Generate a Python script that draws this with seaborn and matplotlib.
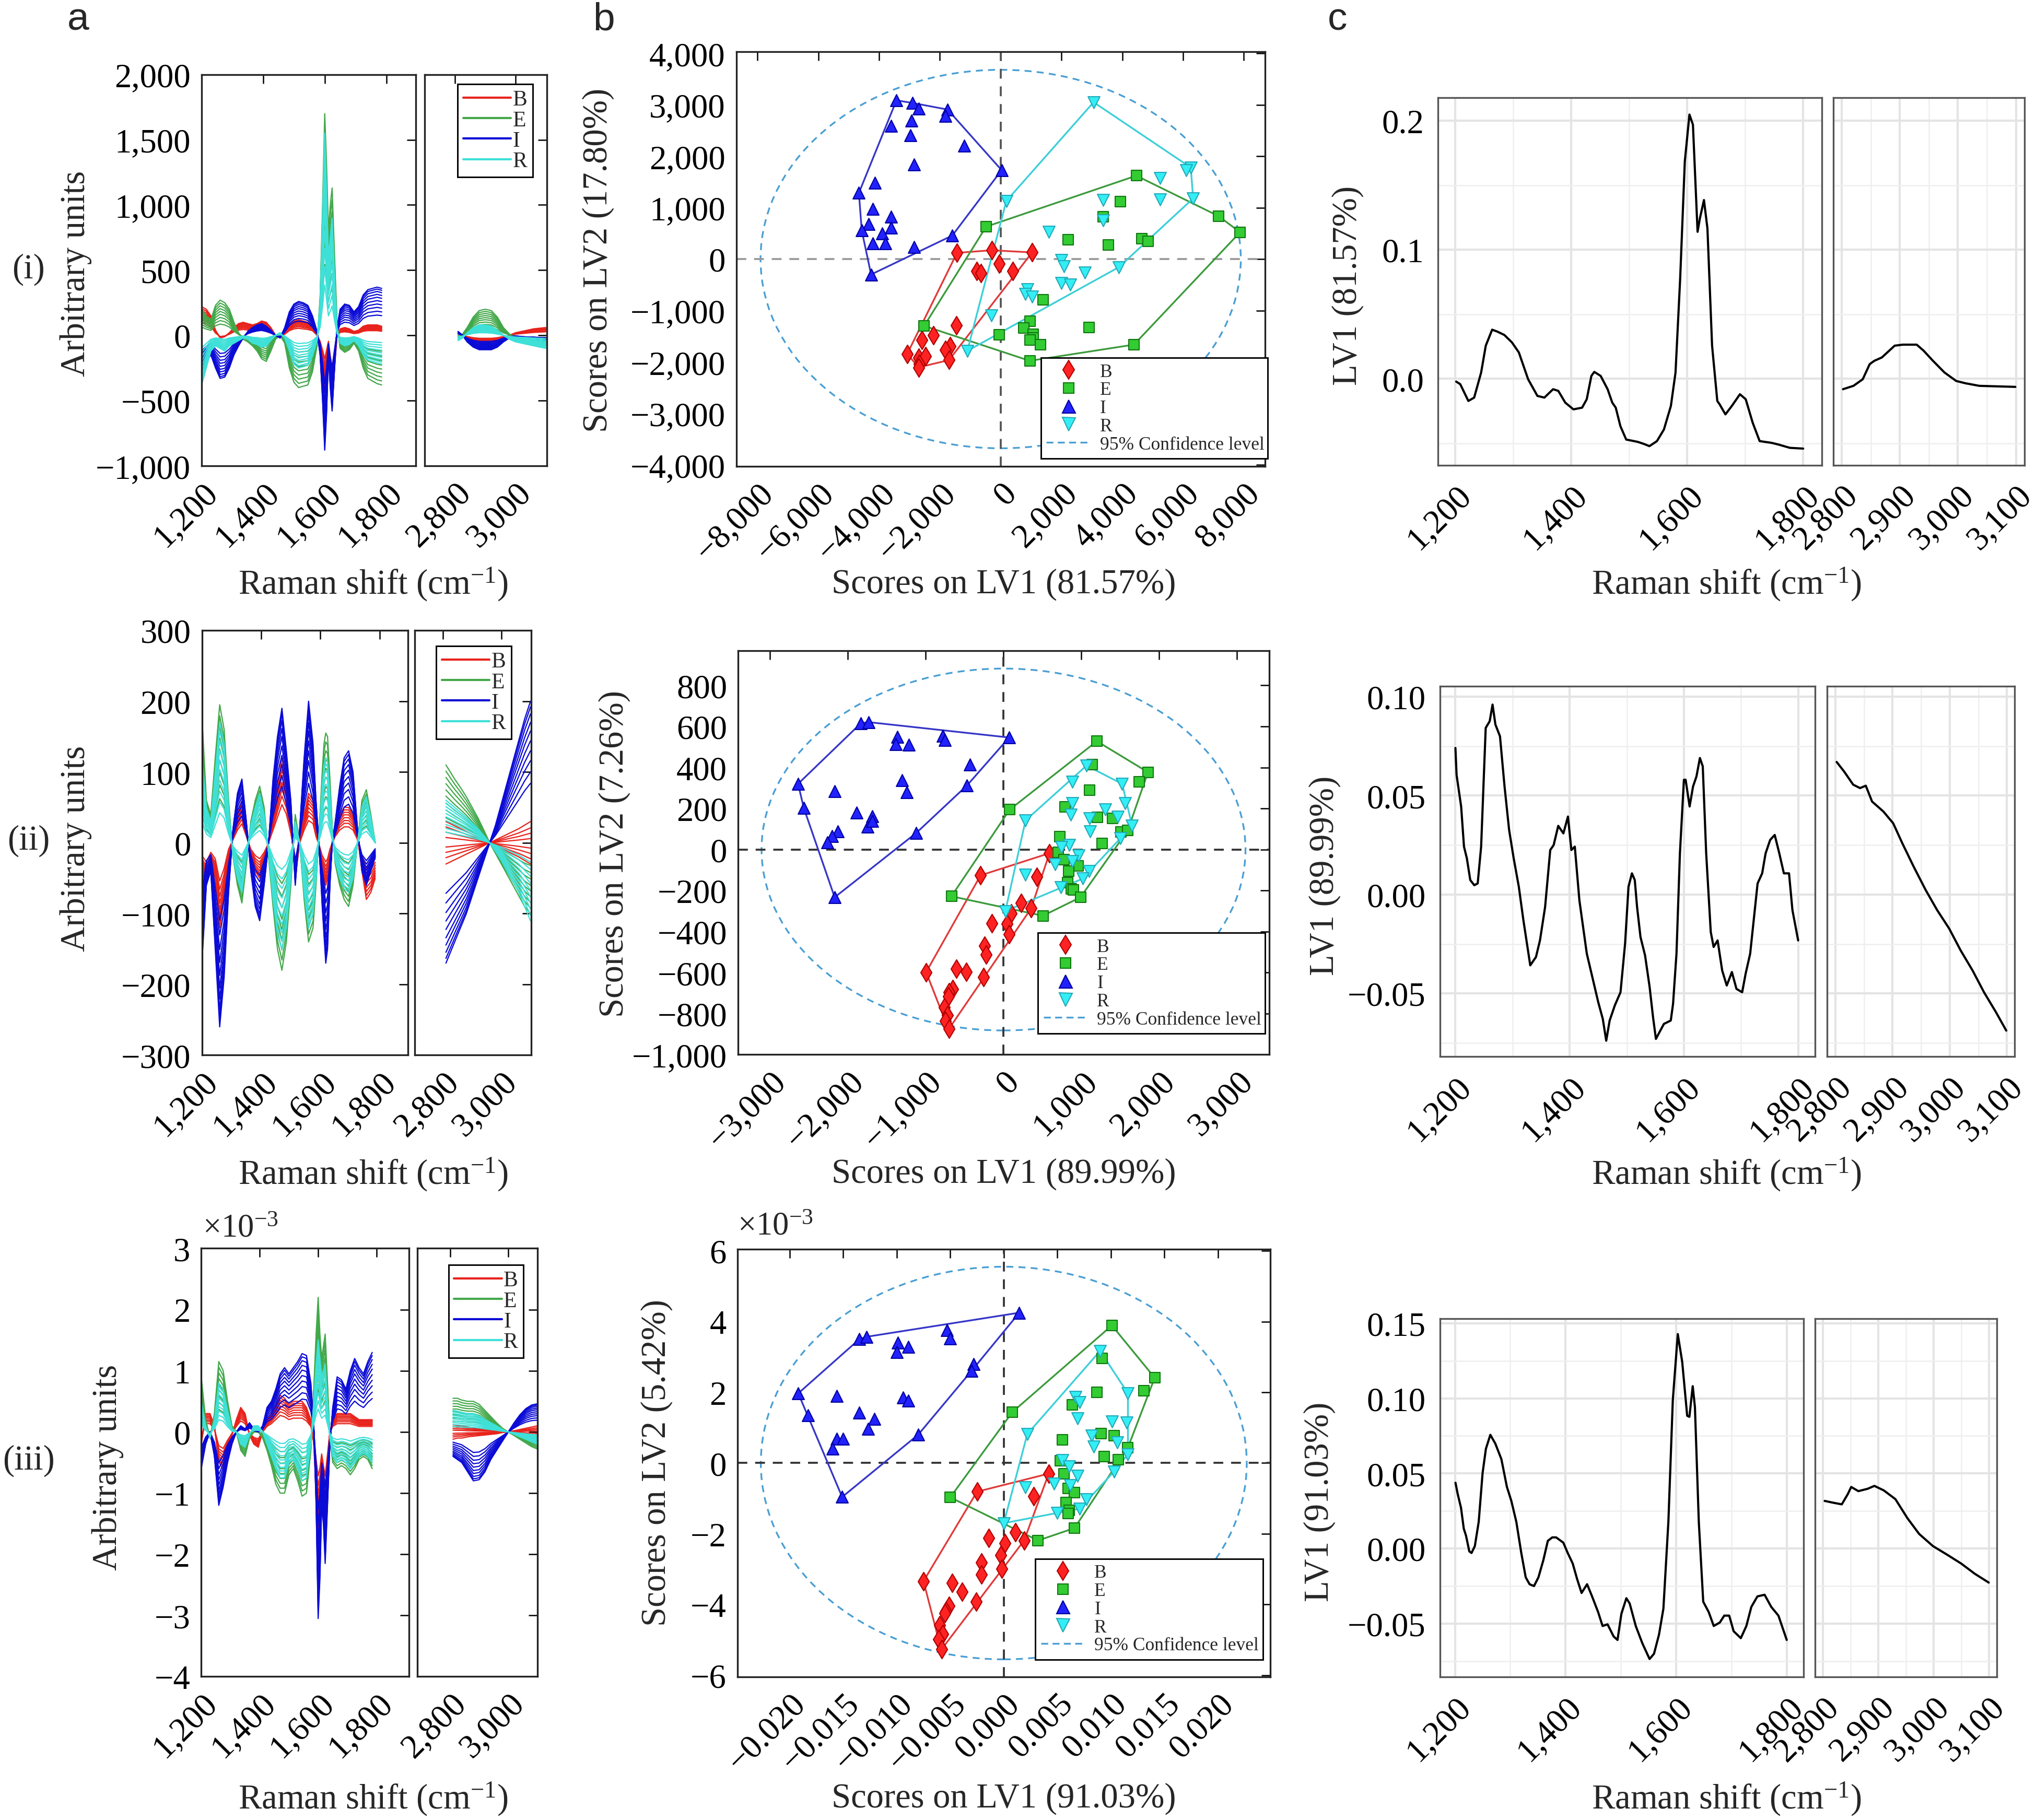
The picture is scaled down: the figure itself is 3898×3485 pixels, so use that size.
import numpy as np
import pandas as pd
import seaborn as sns
import matplotlib.pyplot as plt
from matplotlib.patches import Ellipse
from matplotlib.lines import Line2D
from matplotlib.ticker import FuncFormatter, FixedLocator

sns.set_theme(style="white")
plt.rcParams["font.family"] = ["Liberation Serif", "DejaVu Serif"]
plt.rcParams["mathtext.fontset"] = "custom"
plt.rcParams["mathtext.rm"] = "Liberation Serif"
plt.rcParams["mathtext.it"] = "Liberation Serif:italic"
plt.rcParams["mathtext.bf"] = "Liberation Serif:bold"
SERIF = ["Liberation Serif", "DejaVu Serif"]

classes = ["B", "E", "I", "R"]

# ---------------- column a: pretreated spectra ----------------
# outer line of each class bundle; bundle = outer line * scale factors
shift_lo = [1200, 1215, 1230, 1245, 1260, 1275, 1290, 1305, 1320, 1335, 1350, 1365, 1380, 1395, 1410,
            1425, 1440, 1455, 1470, 1485, 1500, 1515, 1530, 1545, 1560, 1575, 1585, 1593, 1600, 1606,
            1612, 1618, 1624, 1632, 1640, 1650, 1665, 1680, 1695, 1710, 1725, 1740, 1755, 1770, 1785]
shift_hi = [2810, 2825, 2840, 2860, 2880, 2900, 2920, 2940, 2960, 2980, 3000, 3020, 3040, 3060, 3080, 3100]

# (i)
a1_B_lo = [220, 200, 150, 40, -20, -10, 20, 60, 90, 100, 90, 80, 90, 110, 100, 60, 0, -20, 20, 80, 110, 120,
           110, 100, 80, 0, -100, -250, -400, -250, -100, -350, -550, -250, 0, 50, 60, 50, 30, 40, 70, 80, 80, 80, 70]
a1_E_lo = [200, 150, 120, 230, 270, 250, 200, 100, 20, -30, -50, -80, -120, -180, -200, -120, -30, 0, -60, -250,
           -360, -400, -390, -380, -280, -80, 300, 1000, 1700, 1300, 800, 1000, 1130, 600, 100, -100, -130, -110,
           -60, -120, -250, -330, -350, -370, -380]
a1_I_lo = [-280, -200, -150, -250, -330, -320, -250, -150, -80, -20, 30, 60, 80, 90, 70, 40, 0, -20, 60, 180, 240,
           260, 250, 230, 150, 30, -150, -500, -880, -600, -150, -400, -580, -250, 60, 200, 240, 230, 180, 220, 310,
           350, 360, 370, 360]
a1_R_lo = [-380, -250, -120, -80, -100, -120, -80, -60, -40, -20, -30, -60, -70, -90, -80, -40, 0, 20, -20, -120,
           -220, -250, -240, -230, -160, -40, 250, 900, 1550, 1100, 600, 750, 900, 450, 50, -60, -80, -70, -40, -80,
           -150, -190, -200, -210, -220]
a1_B_hi = [20, 0, -20, -40, -50, -50, -50, -40, -20, 0, 20, 30, 40, 50, 55, 60]
a1_E_hi = [-10, 10, 60, 140, 190, 200, 190, 140, 60, 10, -20, -40, -50, -60, -70, -80]
a1_I_hi = [30, 0, -50, -90, -110, -110, -110, -90, -50, -20, -10, -20, -30, -30, -40, -40]
a1_R_hi = [-40, -20, 20, 60, 80, 80, 70, 40, 0, -30, -50, -60, -70, -80, -90, -100]

# (ii)
a2_B_lo = [-40, -60, -30, -50, -120, -80, -20, 10, 40, 60, 20, -20, -40, -50, -30, 0, 40, 80, 120, 90, 30, -50,
           0, 40, 70, 60, 20, 0, -20, -40, -50, -60, -50, -20, 0, 20, 40, 50, 50, 40, 10, -40, -80, -70, -50]
a2_E_lo = [180, 60, 40, 120, 195, 160, 60, -20, -60, -85, -30, 30, 60, 80, 50, -20, -90, -150, -180, -140, -60,
           40, 0, -80, -140, -120, -60, 0, 50, 100, 140, 155, 150, 90, 20, -30, -60, -80, -90, -60, 0, 60, 75, 40, 0]
a2_I_lo = [-170, -60, -40, -150, -260, -190, -70, 20, 70, 90, 30, -40, -90, -110, -60, 0, 90, 150, 190, 130, 60,
           -60, 20, 120, 200, 140, 60, 10, -40, -90, -130, -170, -150, -60, 0, 30, 80, 120, 130, 100, 20, -40, -60,
           -40, -20]
a2_R_lo = [120, 50, 30, 100, 170, 140, 50, -20, -50, -70, -20, 25, 50, 70, 40, -15, -80, -130, -150, -120, -50,
           30, 0, -70, -120, -100, -50, 0, 40, 80, 110, 120, 115, 70, 15, -25, -50, -65, -70, -50, 0, 50, 65, 35, 0]
a2_B_hi = [30, 27, 24, 20, 16, 12, 8, 4, 0, -4, -8, -12, -16, -20, -25, -30]
a2_E_hi = [110, 100, 90, 78, 65, 50, 35, 18, 0, -15, -30, -45, -60, -75, -90, -100]
a2_I_hi = [-170, -155, -140, -120, -100, -75, -50, -25, 0, 25, 55, 85, 115, 145, 175, 200]
a2_R_hi = [60, 55, 50, 43, 36, 28, 20, 10, 0, -12, -25, -40, -55, -70, -90, -110]

# (iii)  (x 10^-3)
a3_B_lo = [-0.2, 0.3, 0.3, 0.1, -0.5, -0.6, -0.3, -0.05, 0.2, 0.4, 0.3, -0.05, -0.2, -0.25, 0.0, 0.2, 0.3, 0.45,
           0.6, 0.55, 0.45, 0.5, 0.5, 0.5, 0.4, 0.2, -0.2, -1.0, -1.6, -1.3, -0.8, -1.2, -1.6, -0.8, 0.0, 0.2, 0.3,
           0.3, 0.3, 0.3, 0.25, 0.2, 0.2, 0.2, 0.2]
a3_E_lo = [0.9, 0.2, -0.1, 0.3, 1.15, 1.0, 0.5, 0.1, 0.0, -0.3, -0.4, -0.1, 0.0, 0.0, -0.1, -0.3, -0.55, -0.85,
           -1.0, -1.0, -0.7, -0.6, -0.8, -1.05, -1.0, -0.3, 0.7, 1.6, 2.2, 1.6, 1.2, 1.4, 1.6, 0.8, -0.1, -0.5, -0.6,
           -0.55, -0.6, -0.7, -0.6, -0.45, -0.4, -0.45, -0.6]
a3_I_lo = [-0.6, -0.2, 0.0, -0.4, -1.2, -0.9, -0.5, -0.2, 0.0, 0.1, 0.05, 0.15, 0.05, 0.0, 0.1, 0.4, 0.5, 0.7,
           0.95, 1.05, 0.95, 1.05, 1.15, 1.28, 1.25, 0.8, 0.1, -1.2, -3.05, -2.4, -1.2, -1.5, -2.15, -1.2, -0.2, 0.4,
           0.9, 0.85, 0.7, 1.0, 1.2, 1.05, 0.95, 1.15, 1.3]
a3_R_lo = [0.5, 0.1, -0.1, 0.2, 0.8, 0.7, 0.35, 0.05, 0.0, -0.2, -0.25, -0.05, 0.1, 0.1, 0.0, -0.2, -0.4, -0.6,
           -0.75, -0.75, -0.5, -0.45, -0.6, -0.8, -0.75, -0.2, 0.5, 1.1, 1.5, 1.2, 0.9, 1.0, 1.1, 0.5, -0.1, -0.4,
           -0.5, -0.45, -0.5, -0.6, -0.5, -0.4, -0.35, -0.4, -0.5]
a3_B_hi = [0.12, 0.1, 0.1, 0.08, 0.07, 0.06, 0.05, 0.04, 0.03, 0.01, 0.0, -0.02, -0.04, -0.06, -0.08, -0.1]
a3_E_hi = [0.55, 0.55, 0.52, 0.5, 0.5, 0.45, 0.35, 0.25, 0.15, 0.06, 0.0, -0.06, -0.12, -0.18, -0.24, -0.28]
a3_I_hi = [-0.4, -0.45, -0.5, -0.65, -0.8, -0.78, -0.65, -0.45, -0.3, -0.15, 0.0, 0.15, 0.28, 0.38, 0.44, 0.46]
a3_R_hi = [0.35, 0.34, 0.32, 0.3, 0.3, 0.26, 0.2, 0.15, 0.1, 0.04, 0.0, -0.04, -0.08, -0.12, -0.16, -0.2]

scale_B = [0.45, 0.55, 0.63, 0.71, 0.79, 0.86, 0.93, 1.0]
scale_B_mix = [-1.0, -0.7, -0.45, -0.2, 0.25, 0.5, 0.75, 1.0]
scale_E = [0.32, 0.42, 0.51, 0.6, 0.68, 0.76, 0.84, 0.92, 1.0]
scale_I = [0.42, 0.5, 0.58, 0.65, 0.72, 0.79, 0.85, 0.91, 0.96, 1.0]
scale_R = [0.25, 0.34, 0.43, 0.52, 0.61, 0.69, 0.77, 0.85, 0.93, 1.0]

# ---------------- column b: PLS-DA scores ----------------
b1_B_x = [-1436, -293, 1035, -46, -788, -649, 402, -1452, -2595, -2209, -3073, -1668, -1822, -2703, -2471, -1699, -2672, -2703]
b1_B_y = [121, 171, 129, -86, -236, -271, -236, -1286, -1571, -1486, -1843, -1700, -1771, -1914, -1893, -1964, -2036, -2107]
b1_E_x = [-479, 4463, 3938, 3367, 2224, 3537, 4649, 4849, 7166, 7876, 1390, 958, 757, -46, -2517, 1066, 1066, 958, 1313, 2903, 4386, 958]
b1_E_y = [629, 1621, 1121, 821, 379, 279, 393, 343, 836, 521, -793, -1207, -1343, -1471, -1300, -1464, -1536, -1571, -1664, -1329, -1664, -1979]
b1_I_x = [-3429, -2903, -2703, -1745, -1822, -3614, -2934, -2965, -1205, -2842, 31, -4139, -4664, -4201, -3614, -4340, -4571, -3892, -3614, -1591, -4201, -3799, -2842, -4263]
b1_I_y = [3086, 3036, 2929, 2907, 2786, 2586, 2693, 2407, 2200, 1843, 1729, 1486, 1286, 971, 821, 679, 557, 500, 607, 457, 300, 300, 236, -300]
b1_R_x = [3058, 6255, 6100, 5251, 6332, 5236, 3367, 3367, 185, 1591, 1992, 2085, 2764, 3892, 1992, 2286, 880, 803, 1035, -309, -1097]
b1_R_y = [3050, 1779, 1729, 1571, 1179, 1157, 1143, 750, 1129, 529, -21, -143, -264, -157, -464, -500, -593, -679, -729, -1093, -1786]

b2_B_x = [590, -295, 428, 223, 355, 96, 42, -151, 72, -241, -223, -994, -608, -476, -259, -651, -699, -705, -759, -717, -747, -699]
b2_B_y = [-18, -126, -133, -260, -287, -312, -363, -359, -413, -469, -513, -598, -582, -596, -621, -680, -695, -716, -770, -808, -837, -873]
b2_E_x = [1199, 1855, 1139, 1741, 1102, 78, 789, 1205, 1398, 1506, 1596, 1265, 723, 705, 777, 958, 837, 825, 867, 898, 988, -669, 506]
b2_E_y = [528, 377, 413, 330, 289, 194, 208, 158, 151, 86, 93, 31, 63, -14, -50, -79, -106, -162, -192, -197, -233, -228, -323]
b2_I_x = [-1831, -1735, 72, -1361, -1386, -1217, -777, -753, -428, -1301, -1241, -470, -2639, -2566, -2169, -1886, -1687, -1747, -1687, -1120, -2127, -2205, -2265, -2169]
b2_I_y = [616, 621, 546, 549, 513, 510, 553, 535, 413, 338, 280, 312, 320, 203, 285, 181, 163, 110, 140, 81, 88, 65, 36, -233]
b2_R_x = [1066, 886, 1524, 886, 1560, 862, 1307, 1470, 1102, 283, 1651, 1114, 1500, 843, 741, 964, 663, 886, 277, 1096, 1018, 735, 24]
b2_R_y = [409, 329, 320, 226, 226, 171, 196, 160, 151, 142, 117, 88, 54, 23, 11, -29, -72, -57, -124, -106, -142, -183, -300]

b3_B_x = [0.0042, -0.0025, 0.0028, 0.0011, 0.0019, -0.0014, 0.0001, -0.0003, -0.0021, -0.0021, -0.0002, -0.0075, -0.0048, -0.0039, -0.0026, -0.0051, -0.0054, -0.0055, -0.0060, -0.0057, -0.0061, -0.0058]
b3_B_y = [-0.30, -0.81, -0.94, -1.95, -2.19, -2.12, -2.26, -2.60, -2.82, -3.15, -2.99, -3.34, -3.39, -3.64, -3.92, -4.04, -4.18, -4.25, -4.58, -4.83, -4.98, -5.26]
b3_E_x = [0.0101, 0.0141, 0.0092, 0.0131, 0.0087, 0.0064, 0.0008, 0.0091, 0.0103, 0.0055, 0.0116, 0.0094, 0.0107, 0.0053, 0.0056, 0.0060, 0.0066, 0.0058, 0.0061, 0.0060, 0.0066, -0.0050, 0.0032]
b3_E_y = [3.89, 2.41, 2.96, 2.04, 2.00, 1.65, 1.44, 0.83, 0.78, 0.66, 0.44, 0.19, 0.10, 0.06, -0.30, -0.72, -0.84, -1.12, -1.34, -1.43, -1.84, -0.97, -2.19]
b3_I_x = [0.00145, -0.0135, -0.0128, -0.0053, -0.0050, -0.0099, -0.0100, -0.0089, -0.0028, -0.0030, -0.0192, -0.0156, -0.0094, -0.0089, -0.0183, -0.0135, -0.0121, -0.0127, -0.0080, -0.0156, -0.0150, -0.0160, -0.0151]
b3_I_y = [4.25, 3.50, 3.57, 3.75, 3.52, 3.41, 3.14, 3.28, 2.80, 2.61, 1.97, 1.89, 1.85, 1.77, 1.35, 1.43, 1.25, 0.96, 0.80, 0.69, 0.68, 0.40, -0.96]
b3_R_x = [0.0090, 0.0116, 0.0067, 0.0071, 0.0069, 0.0101, 0.0115, 0.0022, 0.0082, 0.0084, 0.0106, 0.0116, 0.0055, 0.0061, 0.0069, 0.0103, 0.0047, 0.0062, 0.0020, 0.0077, 0.0071, 0.0050, 0.0000]
b3_R_y = [3.17, 1.97, 1.86, 1.72, 1.26, 1.18, 1.14, 0.82, 0.77, 0.46, 0.58, 0.25, 0.08, -0.10, -0.36, -0.24, -0.58, -0.63, -0.68, -1.02, -1.29, -1.41, -1.70]

# 95% confidence ellipse semi-axes (LV1, LV2)
ell_1 = (7900, 3680)
ell_2 = (3108, 882)
ell_3 = (0.0227, 5.55)

# ---------------- column c: LV1 loadings ----------------
c1_x_lo = [1202, 1209, 1223, 1233, 1245, 1253, 1264, 1273, 1285, 1298, 1310, 1326, 1342, 1354, 1369, 1378, 1390, 1404,
           1419, 1427, 1435, 1440, 1451, 1463, 1471, 1477, 1485, 1495, 1503, 1515, 1525, 1535, 1548, 1560, 1572, 1580,
           1588, 1596, 1604, 1610, 1618, 1622, 1629, 1635, 1643, 1652, 1656, 1666, 1677, 1691, 1701, 1713, 1725, 1745,
           1757, 1777, 1800]
c1_y_lo = [-0.0021, -0.0041, -0.0171, -0.0145, 0.0049, 0.0257, 0.0381, 0.0366, 0.0340, 0.0283, 0.0205, -0.0003,
           -0.0132, -0.0145, -0.0080, -0.0093, -0.0184, -0.0236, -0.0223, -0.0158, 0.0023, 0.0054, 0.0023, -0.0080,
           -0.0184, -0.0223, -0.0366, -0.0470, -0.0477, -0.0488, -0.0503, -0.0521, -0.0482, -0.0392, -0.0210, 0.0049,
           0.0776, 0.1684, 0.2047, 0.1969, 0.1139, 0.1243, 0.1385, 0.1165, 0.0257, -0.0171, -0.0197, -0.0275, -0.0210,
           -0.0119, -0.0158, -0.0340, -0.0482, -0.0495, -0.0508, -0.0534, -0.0540]
c1_x_hi = [2802, 2820, 2836, 2848, 2856, 2869, 2891, 2905, 2929, 2941, 2957, 2977, 2997, 3013, 3037, 3099]
c1_y_hi = [-0.0080, -0.0054, -0.0003, 0.0114, 0.0140, 0.0166, 0.0257, 0.0265, 0.0265, 0.0218, 0.0140, 0.0049,
           -0.0016, -0.0034, -0.0054, -0.0062]

c2_x_lo = [1200, 1202, 1210, 1215, 1220, 1226, 1233, 1239, 1245, 1253, 1260, 1265, 1270, 1278, 1286, 1294, 1302, 1311,
           1319, 1331, 1341, 1348, 1357, 1366, 1372, 1380, 1389, 1397, 1403, 1409, 1417, 1430, 1439, 1450, 1458, 1464,
           1470, 1479, 1489, 1497, 1503, 1509, 1514, 1518, 1524, 1532, 1540, 1546, 1551, 1557, 1565, 1577, 1581, 1587,
           1593, 1600, 1603, 1610, 1616, 1622, 1628, 1633, 1639, 1647, 1652, 1659, 1667, 1675, 1684, 1692, 1702, 1708,
           1716, 1729, 1737, 1743, 1751, 1759, 1767, 1775, 1784, 1790, 1800]
c2_y_lo = [0.0741, 0.0605, 0.0445, 0.0242, 0.0183, 0.0073, 0.0047, 0.0056, 0.0242, 0.0842, 0.0876, 0.0960, 0.0859,
           0.0800, 0.0546, 0.0326, 0.0183, 0.0039, -0.0130, -0.0358, -0.0316, -0.0232, -0.0063, 0.0225, 0.0250, 0.0347,
           0.0309, 0.0394, 0.0225, 0.0242, -0.0029, -0.0299, -0.0409, -0.0544, -0.0629, -0.0739, -0.0637, -0.0561,
           -0.0494, -0.0249, 0.0039, 0.0107, 0.0073, -0.0063, -0.0215, -0.0308, -0.0468, -0.0621, -0.0730, -0.0697,
           -0.0654, -0.0637, -0.0553, -0.0299, 0.0208, 0.0580, 0.0580, 0.0445, 0.0546, 0.0597, 0.0690, 0.0648, 0.0208,
           -0.0189, -0.0265, -0.0232, -0.0384, -0.0460, -0.0392, -0.0477, -0.0494, -0.0401, -0.0299, 0.0056, 0.0107,
           0.0208, 0.0276, 0.0301, 0.0208, 0.0107, 0.0107, -0.0079, -0.0232]
c2_x_hi = [2802, 2815, 2831, 2843, 2853, 2864, 2884, 2901, 2917, 2937, 2958, 2978, 2999, 3019, 3040, 3060, 3081, 3099]
c2_y_hi = [0.0670, 0.0622, 0.0555, 0.0538, 0.0550, 0.0470, 0.0419, 0.0360, 0.0259, 0.0140, 0.0022, -0.0079, -0.0172,
           -0.0282, -0.0384, -0.0494, -0.0595, -0.0688]

c3_x_lo = [1201, 1205, 1211, 1216, 1220, 1226, 1230, 1236, 1243, 1250, 1256, 1264, 1273, 1284, 1294, 1302, 1311, 1320,
           1328, 1335, 1343, 1351, 1360, 1368, 1376, 1383, 1396, 1404, 1413, 1421, 1429, 1439, 1448, 1459, 1467, 1476,
           1487, 1494, 1501, 1510, 1516, 1527, 1539, 1552, 1560, 1569, 1577, 1586, 1594, 1603, 1611, 1620, 1624, 1630,
           1634, 1641, 1649, 1659, 1668, 1679, 1687, 1696, 1704, 1717, 1727, 1736, 1747, 1760, 1772, 1785, 1800]
c3_y_lo = [0.0438, 0.0363, 0.0271, 0.0132, 0.0086, -0.0019, -0.0030, 0.0016, 0.0178, 0.0502, 0.0664, 0.0757, 0.0699,
           0.0595, 0.0410, 0.0317, 0.0178, -0.0030, -0.0192, -0.0238, -0.0250, -0.0192, -0.0076, 0.0051, 0.0074, 0.0074,
           0.0039, -0.0030, -0.0100, -0.0204, -0.0296, -0.0238, -0.0319, -0.0424, -0.0516, -0.0505, -0.0586, -0.0609,
           -0.0435, -0.0331, -0.0366, -0.0516, -0.0632, -0.0736, -0.0701, -0.0574, -0.0400, 0.0178, 0.0988, 0.1428,
           0.1243, 0.0884, 0.0877, 0.1081, 0.0942, 0.0178, -0.0354, -0.0424, -0.0516, -0.0493, -0.0447, -0.0447,
           -0.0551, -0.0597, -0.0516, -0.0389, -0.0319, -0.0308, -0.0389, -0.0447, -0.0609]
c3_x_hi = [2803, 2817, 2834, 2845, 2851, 2864, 2881, 2893, 2910, 2931, 2953, 2974, 2999, 3025, 3050, 3075, 3100]
c3_y_hi = [0.0317, 0.0306, 0.0294, 0.0363, 0.0410, 0.0382, 0.0398, 0.0417, 0.0387, 0.0329, 0.0201, 0.0097, 0.0016,
           -0.0042, -0.0100, -0.0169, -0.0227]

# ---------------- styling ----------------
LINE_COL = {"B": "#e8231c", "E": "#43a84a", "I": "#0b0bd6", "R": "#3ee0d8"}
FACE = {"B": "#ff2222", "E": "#33cc33", "I": "#2222ff", "R": "#33eef5"}
EDGE = {"B": "#b00000", "E": "#117711", "I": "#0000a0", "R": "#22aab8"}
HULL = {"B": "#e03a3a", "E": "#3c9a3c", "I": "#3636c8", "R": "#3ccfd8"}
MARK = {"B": "d", "E": "s", "I": "^", "R": "v"}
SIZE = {"B": 36, "E": 24, "I": 30, "R": 30}
ELL_COL = "#4a9fd4"
MINUS = "\u2212"

fig = plt.figure(figsize=(3898 / 300, 3486 / 300), dpi=300)


def add_ax(l, r, t, b):
    # box given in pixels of the 1568 x 1402 preview
    return fig.add_axes([l / 1568, 1 - b / 1402, (r - l) / 1568, (b - t) / 1402])


def comma_fmt(v, pos=None):
    return f"{v:,.0f}".replace("-", MINUS)


def dec_fmt(n):
    def f(v, pos=None):
        if abs(v) < 1e-12:
            v = 0.0
        return f"{v:.{n}f}".replace("-", MINUS)
    return FuncFormatter(f)


def rot(ax):
    plt.setp(ax.get_xticklabels(), rotation=45, ha="right", rotation_mode="anchor", family=SERIF)
    plt.setp(ax.get_yticklabels(), family=SERIF)


def matlab_style(ax):
    ax.tick_params(direction="in", top=True, right=True, length=4, width=0.6, labelsize=15.5, pad=5,
                   colors="black")
    for s in ax.spines.values():
        s.set_linewidth(0.8)
        s.set_color("#222222")
    ax.set_xlabel("")
    ax.set_ylabel("")


def convex_hull(xs, ys):
    pts = sorted(set(zip(xs, ys)))

    def cross(o, a, b):
        return (a[0] - o[0]) * (b[1] - o[1]) - (a[1] - o[1]) * (b[0] - o[0])

    lower, upper = [], []
    for p in pts:
        while len(lower) >= 2 and cross(lower[-2], lower[-1], p) <= 0:
            lower.pop()
        lower.append(p)
    for p in reversed(pts):
        while len(upper) >= 2 and cross(upper[-2], upper[-1], p) <= 0:
            upper.pop()
        upper.append(p)
    hull = lower[:-1] + upper[:-1]
    hull.append(hull[0])
    return [p[0] for p in hull], [p[1] for p in hull]


def spectra_panel(box_lo, box_hi, prof_lo, prof_hi, sc_lo, sc_hi, xlim_lo, xlim_hi, ylim, yticks, yfmt, leg):
    ax_lo = add_ax(*box_lo)
    ax_hi = add_ax(*box_hi)
    for ax, shift, prof, sc in ((ax_lo, shift_lo, prof_lo, sc_lo), (ax_hi, shift_hi, prof_hi, sc_hi)):
        rows = []
        for cls in classes:
            for k, s in enumerate(sc[cls]):
                for x, v in zip(shift, prof[cls]):
                    rows.append((x, v * s, cls, f"{cls}{k}"))
        df = pd.DataFrame(rows, columns=["shift", "value", "cls", "line"])
        sns.lineplot(data=df, x="shift", y="value", hue="cls", hue_order=classes, units="line",
                     estimator=None, palette=LINE_COL, lw=0.55, legend=False, sort=False, ax=ax)
        ax.set_ylim(*ylim)
        ax.set_yticks(yticks)
        ax.yaxis.set_major_formatter(yfmt)
        matlab_style(ax)
    ax_lo.set_xlim(*xlim_lo)
    ax_lo.set_xticks([1200, 1400, 1600, 1800])
    ax_hi.set_xlim(*xlim_hi)
    ax_hi.set_xticks([2800, 3000])
    ax_hi.tick_params(labelleft=False)
    for ax in (ax_lo, ax_hi):
        ax.xaxis.set_major_formatter(FuncFormatter(comma_fmt))
        rot(ax)
    handles = [Line2D([], [], color=LINE_COL[c], lw=1.0, label=c) for c in classes]
    lg = ax_hi.legend(handles=handles, loc="upper right", bbox_to_anchor=(leg[1], leg[2]),
                      fontsize=10, frameon=True, fancybox=False, edgecolor="black", framealpha=1,
                      labelspacing=0.02, handlelength=2.2, handletextpad=0.08, borderpad=0.25, borderaxespad=0)
    lg.get_frame().set_linewidth(0.7)
    return ax_lo, ax_hi


def score_panel(box, pts, ell, xlim, ylim, xticks, yticks, xfmt, yfmt, zero_cols, leg):
    ax = add_ax(*box)
    ax.add_patch(Ellipse((0, 0), 2 * ell[0], 2 * ell[1], fill=False, ls=(0, (4, 3)), ec=ELL_COL, lw=0.8,
                         zorder=1))
    ax.axhline(0, ls=(0, (5, 4)), color=zero_cols[0], lw=0.9, zorder=1)
    ax.axvline(0, ls=(0, (5, 4)), color=zero_cols[1], lw=0.9, zorder=1)
    for cls in ["I", "B", "E", "R"]:
        xs, ys = pts[cls]
        hx, hy = convex_hull(xs, ys)
        ax.plot(hx, hy, color=HULL[cls], lw=0.8, zorder=2)
        sns.scatterplot(x=xs, y=ys, marker=MARK[cls], color=FACE[cls], edgecolor=EDGE[cls], linewidth=0.5,
                        s=SIZE[cls], ax=ax, zorder=3, legend=False)
    ax.set_xlim(*xlim)
    ax.set_ylim(*ylim)
    ax.set_xticks(xticks)
    ax.set_yticks(yticks)
    ax.xaxis.set_major_formatter(xfmt)
    ax.yaxis.set_major_formatter(yfmt)
    matlab_style(ax)
    rot(ax)
    handles = [Line2D([], [], ls="none", marker=MARK[c], ms=6 if c != "E" else 5, mfc=FACE[c], mec=EDGE[c],
                      mew=0.5, label=c) for c in classes]
    handles.append(Line2D([], [], ls=(0, (4, 2.5)), color=ELL_COL, lw=0.8, label="95% Confidence level"))
    lg = ax.legend(handles=handles, loc="upper left", bbox_to_anchor=(leg[0], 0, leg[1] - leg[0], leg[2]),
                   mode="expand", fontsize=8.5, frameon=True, fancybox=False, edgecolor="black", framealpha=1,
                   labelspacing=0.05, handlelength=2.4, handletextpad=0.5, borderpad=0.3, borderaxespad=0)
    lg.get_frame().set_linewidth(0.7)
    lg.set_zorder(10)
    return ax


def gg_style(ax):
    ax.set_facecolor("white")
    ax.grid(True, which="major", color="#e4e4e4", lw=1.0)
    ax.grid(True, which="minor", color="#efefef", lw=0.6)
    ax.set_axisbelow(True)
    for s in ax.spines.values():
        s.set_color("#555555")
        s.set_linewidth(0.8)
    ax.tick_params(which="major", direction="out", length=3.5, width=0.6, color="#555555", labelsize=15.5,
                   pad=3, labelcolor="black")
    ax.tick_params(which="minor", length=0)
    ax.set_xlabel("")
    ax.set_ylabel("")


def loading_panel(box_lo, box_hi, xlo, ylo, xhi, yhi, xlim_lo, xlim_hi, ylim, yticks, yminor, ndec):
    ax_lo = add_ax(*box_lo)
    ax_hi = add_ax(*box_hi)
    sns.lineplot(x=xlo, y=ylo, color="black", lw=1.0, sort=False, ax=ax_lo)
    sns.lineplot(x=xhi, y=yhi, color="black", lw=1.0, sort=False, ax=ax_hi)
    for ax in (ax_lo, ax_hi):
        ax.set_ylim(*ylim)
        ax.set_yticks(yticks)
        ax.yaxis.set_minor_locator(FixedLocator(yminor))
        ax.yaxis.set_major_formatter(dec_fmt(ndec))
        gg_style(ax)
    ax_lo.set_xlim(*xlim_lo)
    ax_lo.set_xticks([1200, 1400, 1600, 1800])
    ax_lo.xaxis.set_minor_locator(FixedLocator([1300, 1500, 1700]))
    ax_hi.set_xlim(*xlim_hi)
    ax_hi.set_xticks([2800, 2900, 3000, 3100])
    ax_hi.xaxis.set_minor_locator(FixedLocator([2850, 2950, 3050]))
    ax_hi.tick_params(axis="y", left=False, labelleft=False)
    for ax in (ax_lo, ax_hi):
        ax.xaxis.set_major_formatter(FuncFormatter(comma_fmt))
        rot(ax)
    return ax_lo, ax_hi


# ---------------- column a ----------------
spectra_panel((155.3, 320, 57.8, 359.1), (327.2, 421.2, 57.8, 359.1),
              {"B": a1_B_lo, "E": a1_E_lo, "I": a1_I_lo, "R": a1_R_lo},
              {"B": a1_B_hi, "E": a1_E_hi, "I": a1_I_hi, "R": a1_R_hi},
              {"B": scale_B, "E": scale_E, "I": scale_I, "R": scale_R},
              {"B": scale_B, "E": scale_E, "I": scale_I, "R": scale_R},
              (1200, 1895), (2700, 3104), (-1000, 2000), [-1000, -500, 0, 500, 1000, 1500, 2000],
              FuncFormatter(comma_fmt), (0.219, 0.884, 0.975))
spectra_panel((155.5, 314.1, 485.9, 813), (319.4, 409, 485.9, 813),
              {"B": a2_B_lo, "E": a2_E_lo, "I": a2_I_lo, "R": a2_R_lo},
              {"B": a2_B_hi, "E": a2_E_hi, "I": a2_I_hi, "R": a2_R_hi},
              {"B": scale_B, "E": scale_E, "I": scale_I, "R": scale_R},
              {"B": scale_B_mix, "E": scale_E, "I": scale_I, "R": scale_R},
              (1200, 1895), (2703, 3102), (-300, 300), [-300, -200, -100, 0, 100, 200, 300],
              FuncFormatter(comma_fmt), (0.156, 0.83, 0.963))
spectra_panel((155, 314.8, 961.8, 1291.6), (321.3, 414.1, 961.8, 1291.6),
              {"B": a3_B_lo, "E": a3_E_lo, "I": a3_I_lo, "R": a3_R_lo},
              {"B": a3_B_hi, "E": a3_E_hi, "I": a3_I_hi, "R": a3_R_hi},
              {"B": scale_B, "E": scale_E, "I": scale_I, "R": scale_R},
              {"B": scale_B_mix, "E": scale_E, "I": scale_I, "R": scale_R},
              (1200, 1910), (2687, 3101), (-4, 3), [-4, -3, -2, -1, 0, 1, 2, 3],
              FuncFormatter(comma_fmt), (0.207, 0.882, 0.961))

# ---------------- column b ----------------
score_panel((567, 974.3, 40.3, 359.5),
            {"B": (b1_B_x, b1_B_y), "E": (b1_E_x, b1_E_y), "I": (b1_I_x, b1_I_y), "R": (b1_R_x, b1_R_y)},
            ell_1, (-8700, 8700), (-4030, 4030), list(range(-8000, 8001, 2000)), list(range(-4000, 4001, 1000)),
            FuncFormatter(comma_fmt), FuncFormatter(comma_fmt), ("#9a9a9a", "#555555"), (0.576, 1.005, 0.262))
score_panel((568.4, 977.3, 501.7, 812.6),
            {"B": (b2_B_x, b2_B_y), "E": (b2_E_x, b2_E_y), "I": (b2_I_x, b2_I_y), "R": (b2_R_x, b2_R_y)},
            ell_2, (-3410, 3410), (-1000, 968), list(range(-3000, 3001, 1000)), list(range(-1000, 801, 200)),
            FuncFormatter(comma_fmt), FuncFormatter(comma_fmt), ("#333333", "#333333"), (0.5646, 0.993, 0.302))
score_panel((567.8, 978.3, 962.3, 1291.9),
            {"B": (b3_B_x, b3_B_y), "E": (b3_E_x, b3_E_y), "I": (b3_I_x, b3_I_y), "R": (b3_R_x, b3_R_y)},
            ell_3, (-0.0249, 0.0249), (-6.05, 6.05),
            [-0.02, -0.015, -0.01, -0.005, 0.0, 0.005, 0.01, 0.015, 0.02], [-6, -4, -2, 0, 2, 4, 6],
            dec_fmt(3), FuncFormatter(comma_fmt), ("#333333", "#333333"), (0.559, 0.986, 0.2765))

# ---------------- column c ----------------
loading_panel((1107.6, 1403, 75.8, 358.7), (1412, 1559, 75.8, 358.7), c1_x_lo, c1_y_lo, c1_x_hi, c1_y_hi,
              (1171, 1832), (2785.5, 3114.5), (-0.0669, 0.2176), [0.0, 0.1, 0.2], [-0.05, 0.05, 0.15], 1)
loading_panel((1109, 1397.8, 529, 814.2), (1407, 1551.7, 529, 814.2), c2_x_lo, c2_y_lo, c2_x_hi, c2_y_hi,
              (1173, 1829.5), (2785, 3114), (-0.082, 0.1052), [-0.05, 0.0, 0.05, 0.10],
              [-0.075, -0.025, 0.025, 0.075], 2)
loading_panel((1109, 1388.8, 1016, 1291.9), (1398, 1538, 1016, 1291.9), c3_x_lo, c3_y_lo, c3_x_hi, c3_y_hi,
              (1173, 1830), (2786, 3115), (-0.0856, 0.153), [-0.05, 0.0, 0.05, 0.10, 0.15],
              [-0.075, -0.025, 0.025, 0.075, 0.125], 2)

# ---------------- figure text ----------------
for x, letter in ((0.0383, "a"), (0.2966, "b"), (0.657, "c")):
    fig.text(x, 0.989, letter, fontsize=18, family=["Liberation Sans", "DejaVu Sans"], ha="center", va="center")
for y, lab in ((0.852, "(i)"), (0.538, "(ii)"), (0.1976, "(iii)")):
    fig.text(0.014, y, lab, fontsize=16, ha="center", va="center")

raman = "Raman shift (cm$^{-1}$)"
for y, b_lab in ((0.679, "Scores on LV1 (81.57%)"), (0.355, "Scores on LV1 (89.99%)"),
                 (0.012, "Scores on LV1 (91.03%)")):
    fig.text(0.1834, y, raman, fontsize=16, ha="center", va="center")
    fig.text(0.4929, y, b_lab, fontsize=16, ha="center", va="center")
    fig.text(0.848, y, raman, fontsize=16, ha="center", va="center")

for x, y in ((0.0372, 0.8497), (0.0372, 0.534), (0.0528, 0.194)):
    fig.text(x, y, "Arbitrary units", fontsize=16, rotation=90, ha="center", va="center")
for x, y, lab in ((0.2937, 0.857, "Scores on LV2 (17.80%)"), (0.3017, 0.531, "Scores on LV2 (7.26%)"),
                  (0.3225, 0.1964, "Scores on LV2 (5.42%)")):
    fig.text(x, y, lab, fontsize=16, rotation=90, ha="center", va="center")
for x, y, lab in ((0.662, 0.843, "LV1 (81.57%)"), (0.6506, 0.519, "LV1 (89.99%)"), (0.648, 0.175, "LV1 (91.03%)")):
    fig.text(x, y, lab, fontsize=16, rotation=90, ha="center", va="center")

fig.text(0.0995, 0.3248, "\u00d710$^{-3}$", fontsize=15, ha="left", va="center")
fig.text(0.3622, 0.326, "\u00d710$^{-3}$", fontsize=15, ha="left", va="center")

fig.savefig("out.png", dpi=300, facecolor="white")
